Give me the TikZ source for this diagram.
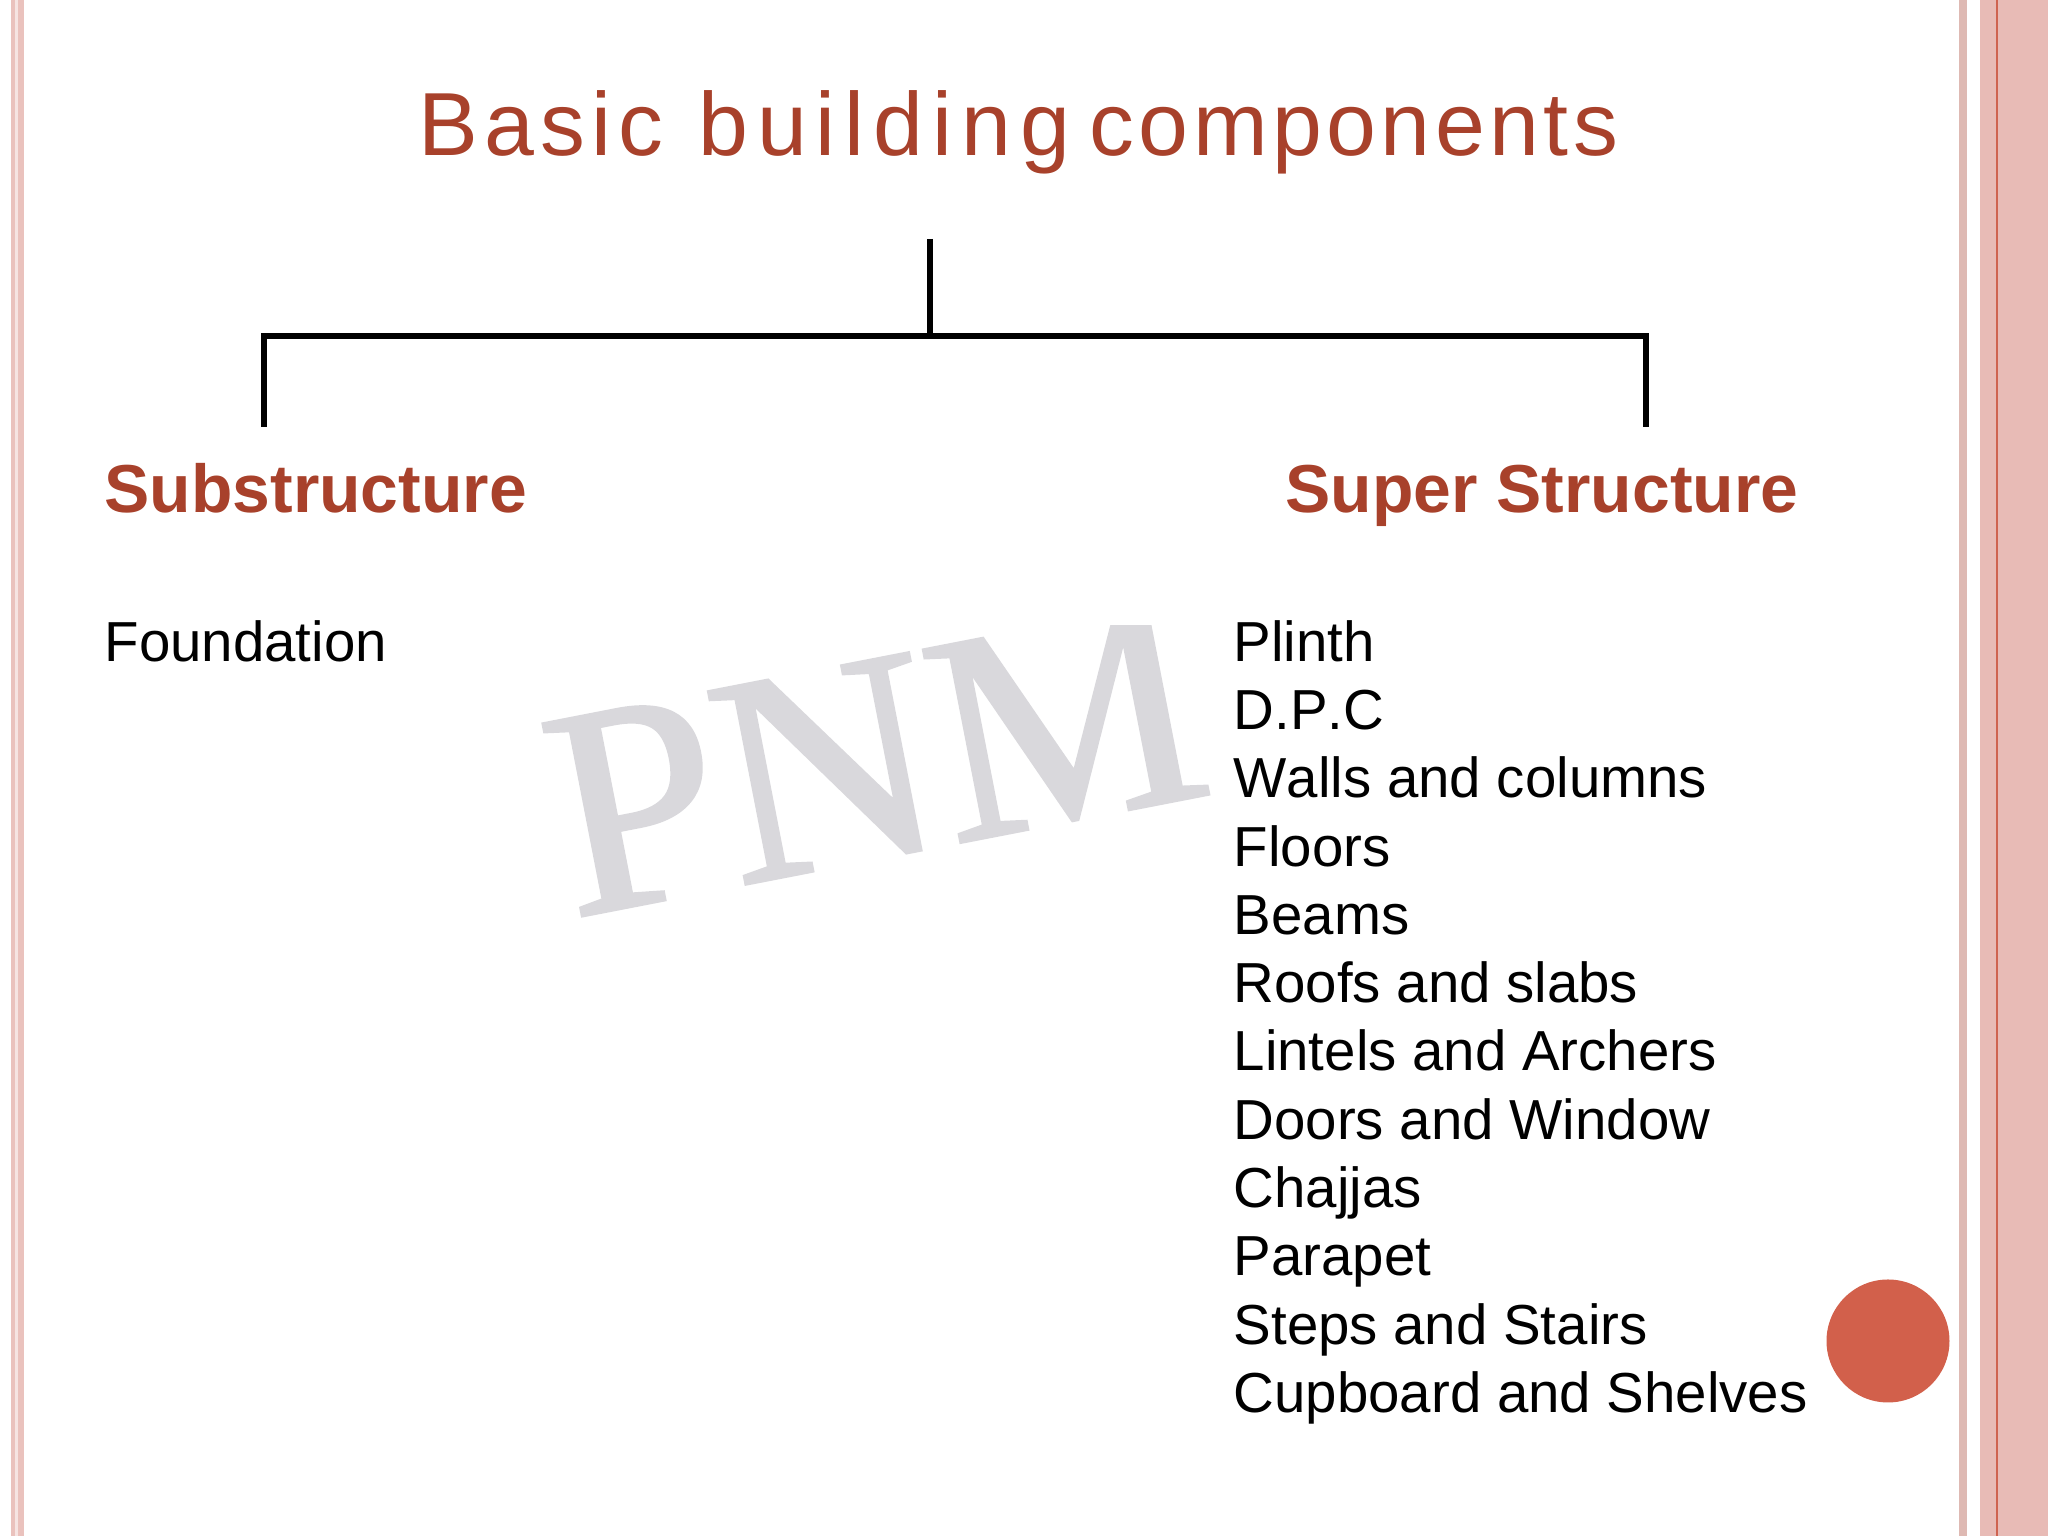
\documentclass[tikz,border=0pt]{standalone}
\usepackage{fontspec}
\setmainfont[Kerning=Off]{Liberation Sans}
\newfontfamily\stampfont[FakeStretch=1.015,FakeBold=1.2]{Liberation Serif}
\definecolor{rust}{HTML}{A8412B}
\definecolor{stamp}{HTML}{D9D8DC}
\definecolor{band}{HTML}{E8BBB6}
\definecolor{bandthin}{HTML}{DEB9B3}
\definecolor{bandline}{HTML}{CF6350}
\definecolor{dot}{HTML}{D2604B}
\newcommand{\spaced}[2]{{\addfontfeature{LetterSpace=#1}#2}}
\tikzset{
  heading/.style= {anchor=base west, inner sep=0, text=rust, font=\fontsize{19.3}{19.3}\selectfont\bfseries},
  item/.style= {anchor=base west, inner sep=0, text=black, font=\fontsize{16.05}{16.05}\selectfont},
  bar/.style= {line width=1.6pt, black},
}
\begin{document}
\begin{tikzpicture}
  \useasboundingbox (0,0) rectangle (20.48,15.36);

  % page edges
  \fill [band!90] (0.11,0) rectangle (0.24,15.36);
  \fill [white!60!band] (0.15,0) rectangle (0.18,15.36);
  \fill [bandthin] (19.59,0) rectangle (19.67,15.36);
  \fill [band] (19.80,0) rectangle (20.48,15.36);
  \fill [bandline] (19.96,0) rectangle (19.98,15.36);
  \node [circle, fill=dot, minimum size=1.23cm, inner sep=0] (dot) at (18.88,1.95) {};

  % the stamp is cut off flat at its top
  \begin{scope}
    \clip (0,0) rectangle (20.48,9.10);
    \node [rotate=11, text=stamp, inner sep=0, font=\stampfont\fontsize{85}{85}\selectfont] (stamp) at (8.76,7.77) {PNM};
  \end{scope}

  \node [anchor=base west, inner sep=0, text=rust, font=\fontsize{25.5}{25.5}\selectfont] (title) at (4.18,13.80) {\spaced{7}{Basic}\hspace{3pt} \spaced{10}{building}\hspace{-1.5pt} \spaced{5}{components}};

  \node [heading] (sub) at (1.04,10.23) {Substructure};
  \node [heading] (super) at (12.85,10.23) {Super Structure};

  \coordinate (top) at (9.30,12.97);
  \coordinate (mid) at (9.30,12.00);
  \coordinate (subend) at (2.64,11.09);
  \coordinate (superend) at (16.46,11.09);
  \draw [bar] (top) -- (mid);
  \draw [bar] (subend) |- (mid) -| (superend);

  \node [item] (foundation) at (1.04,8.74) {Foundation};

  \node [item] (plinth) at (12.33,8.74) {Plinth};
  \node [item] (dpc) at (12.33,8.06) {D.P.C};
  \node [item] (walls) at (12.33,7.38) {Walls and columns};
  \node [item] (floors) at (12.33,6.69) {Floors};
  \node [item] (beams) at (12.33,6.01) {Beams};
  \node [item] (roofs) at (12.33,5.33) {Roofs and slabs};
  \node [item] (lintels) at (12.33,4.65) {Lintels and Archers};
  \node [item] (doors) at (12.33,3.96) {Doors and Window};
  \node [item] (chajjas) at (12.33,3.28) {Chajjas};
  \node [item] (parapet) at (12.33,2.60) {Parapet};
  \node [item] (steps) at (12.33,1.91) {Steps and Stairs};
  \node [item] (cupboard) at (12.33,1.23) {Cupboard and Shelves};
\end{tikzpicture}
\end{document}
